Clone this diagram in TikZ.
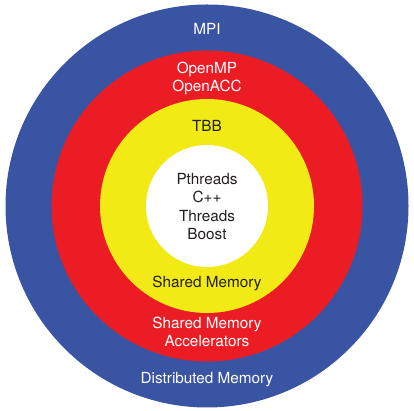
\documentclass[tikz,border=0pt]{standalone}
\usepackage{fontspec}
\setmainfont{TeX Gyre Heros}
\usetikzlibrary{positioning}
\definecolor{ringblue}{HTML}{3A54A4}
\definecolor{ringred}{HTML}{EC1C24}
\definecolor{ringyellow}{HTML}{F2EA14}
\definecolor{labelgray}{HTML}{231F20}
\tikzset{
  ring/.style     = {circle, inner sep=0pt, draw=none},
  lbl/.style      = {align=center, inner sep=0pt, anchor=base,
                     font=\fontsize{15.3}{18.3}\selectfont},
  lightlbl/.style = {lbl, text=white},
  darklbl/.style  = {lbl, text=labelgray},
}
\begin{document}
\begin{tikzpicture}[x=1pt,y=1pt]
\useasboundingbox (0,0) rectangle (414,411);
\coordinate (c) at (207,205);
% rings, outside in
\node[ring,fill=ringblue,minimum size=403pt]   (dist)   at (c) {};
\node[ring,fill=ringred,minimum size=311pt]    (accel)  at (c) {};
\node[ring,fill=ringyellow,minimum size=214pt] (shared) at (c) {};
\node[ring,fill=white,minimum size=122pt]      (core)   at (c) {};
% labels
\node[lightlbl] (mpi)     at (207,376.7) {MPI};
\node[lightlbl] (openmp)  at (207,319.5) {OpenMP\\OpenACC};
\node[darklbl]  (tbb)     at (207,279.5) {TBB};
\node[darklbl]  (threads) at (207,171.5) {Pthreads\\C++\\Threads\\Boost};
\node[darklbl]  (shm)     at (207,123.5) {Shared Memory};
\node[lightlbl] (shmacc)  at (207,64.5)  {Shared Memory\\Accelerators};
\node[lightlbl] (distmem) at (207,27.5)  {Distributed Memory};
\end{tikzpicture}
\end{document}
